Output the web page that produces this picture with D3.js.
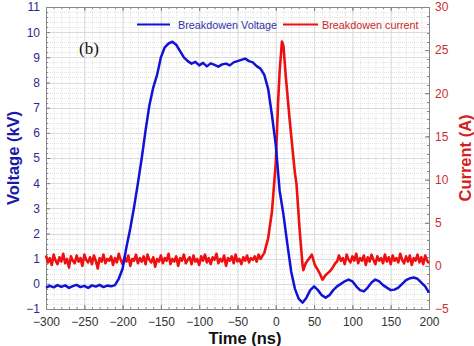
<!DOCTYPE html>
<html><head><meta charset="utf-8">
<script src="https://d3js.org/d3.v7.min.js"></script>
<style>
html,body{margin:0;padding:0;background:#fff;}
svg{display:block;font-family:"Liberation Sans",Arial,sans-serif;}
</style></head>
<body><svg id="c" width="474" height="346"></svg>
<script>
// ---- data ----
const voltageTime = [-300,-295,-290,-285,-280,-275,-270,-265,-260,-255,-250,-245,-240,-235,-230,-225,-220,-215,-210,-205,-200,-195,-190,-185,-180,-175,-170,-165,-160,-155,-150,-145,-140,-135,-130,-125,-120,-115,-110,-105,-100,-95,-90,-85,-80,-75,-70,-65,-60,-55,-50,-45,-40,-35,-30,-25,-20,-15,-10,-5,0,5,10,15,20,25,30,35,40,45,50,55,60,65,70,75,80,85,90,95,100,105,110,115,120,125,130,135,140,145,150,155,160,165,170,175,180,185,190,195,200];
const voltageKV = [-0.15,-0.08,-0.14,-0.05,-0.12,-0.06,-0.16,-0.09,-0.04,-0.13,-0.08,-0.16,-0.06,-0.11,-0.04,-0.13,-0.07,-0.1,-0.05,0.2,0.6,1.45,2.2,3.05,4.0,5.0,6.1,7.1,7.8,8.3,9.0,9.4,9.55,9.62,9.5,9.25,9.0,8.85,8.75,8.82,8.68,8.78,8.64,8.76,8.7,8.63,8.72,8.75,8.68,8.8,8.85,8.9,8.95,8.85,8.8,8.65,8.55,8.3,7.75,6.7,5.5,3.7,2.75,1.6,0.5,-0.2,-0.6,-0.75,-0.55,-0.25,-0.1,-0.25,-0.45,-0.55,-0.45,-0.25,-0.1,0.0,0.1,0.17,0.1,-0.1,-0.25,-0.3,-0.15,0.05,0.17,0.1,-0.05,-0.15,-0.25,-0.23,-0.15,0.0,0.15,0.22,0.25,0.2,0.05,-0.1,-0.35];

const currentTime = [
 -300,-297.5,-295,-292.5,-290,-287.5,-285,-282.5,-280,-277.5,-275,-272.5,-270,-267.5,-265,-262.5,-260,-257.5,-255,-252.5,
 -250,-247.5,-245,-242.5,-240,-237.5,-235,-232.5,-230,-227.5,-225,-222.5,-220,-217.5,-215,-212.5,-210,-207.5,-205,-202.5,
 -200,-197.5,-195,-192.5,-190,-187.5,-185,-182.5,-180,-177.5,-175,-172.5,-170,-167.5,-165,-162.5,-160,-157.5,-155,-152.5,
 -150,-147.5,-145,-142.5,-140,-137.5,-135,-132.5,-130,-127.5,-125,-122.5,-120,-117.5,-115,-112.5,-110,-107.5,-105,-102.5,
 -100,-97.5,-95,-92.5,-90,-87.5,-85,-82.5,-80,-77.5,-75,-72.5,-70,-67.5,-65,-62.5,-60,-57.5,-55,-52.5,
 -50,-47.5,-45,-42.5,-40,-37.5,-35,-32.5,-30,-27.5,-25,-22.5,-20,
 -15,-10,-5,0,3,5,8,10,13,18,25,27,31,35,36,39,43,47,51,55,58,61,64,67,71,75,77.5,
 80,82.5,85,87.5,90,92.5,95,97.5,100,102.5,105,107.5,110,112.5,115,117.5,120,122.5,125,127.5,
 130,132.5,135,137.5,140,142.5,145,147.5,150,152.5,155,157.5,160,162.5,165,167.5,170,172.5,175,177.5,
 180,182.5,185,187.5,190,192.5,195,197.5,200];
const currentA = [
 1.2,0.4,0.9,0.1,1.3,0.6,0.2,1.0,0.5,1.4,0.3,0.8,-0.2,1.1,0.6,0.3,1.2,0.5,0.9,0.0,
 1.3,0.7,0.4,1.0,0.2,1.2,0.6,-0.3,0.9,0.5,1.3,0.3,0.8,0.6,1.1,0.1,0.9,0.4,1.4,0.7,
 0.2,1.0,0.5,1.2,0.0,0.8,0.6,1.3,0.3,0.9,0.5,1.1,0.2,1.3,0.7,0.4,1.0,-0.1,0.8,0.5,
 1.2,0.3,0.9,0.6,1.4,0.2,0.8,0.5,1.1,0.0,0.9,0.6,1.3,0.3,0.7,1.0,0.2,1.2,0.5,0.8,
 0.1,1.1,0.6,1.3,0.4,0.9,0.2,1.0,0.7,1.4,0.3,0.8,0.5,1.2,0.0,0.9,0.6,1.1,0.3,1.3,
 0.5,0.8,0.2,1.0,0.6,1.2,0.4,0.9,0.7,1.1,0.5,1.3,0.8,
 1.5,3.2,6.3,12.0,19.0,22.5,26.0,25.5,22.0,17.0,10.7,9.5,4.3,0.0,-0.5,0.3,0.8,1.3,0.1,-0.5,-1.0,-1.6,-1.2,-0.9,-0.6,-0.1,0.3,
 0.5,1.2,0.6,0.9,0.2,1.3,0.7,0.4,1.1,0.6,1.4,0.3,0.9,0.6,1.2,0.1,1.0,0.5,1.3,0.7,
 0.2,1.1,0.6,0.9,0.3,1.3,0.5,1.0,0.2,1.2,0.6,0.9,0.4,1.4,0.7,0.3,1.1,0.5,1.2,0.1,
 0.9,0.6,1.3,0.4,1.0,0.2,1.2,0.6,0.3];

const xTicks = [-300,-250,-200,-150,-100,-50,0,50,100,150,200];
const vTicks = [-1,0,1,2,3,4,5,6,7,8,9,10,11];
const iTicks = [-5,0,5,10,15,20,25,30];
const legendLabels = ["Breakdowen Voltage","Breakdowen current"];

// ---- layout ----
const L=46, R=429, T=7, B=309;
const blue="#1212d6", red="#ee1010";
const svg=d3.select("#c");
const x=d3.scaleLinear().domain([-300,200]).range([L,R]);
const yV=d3.scaleLinear().domain([-1,11]).range([B,T]);
const yI=d3.scaleLinear().domain([-5,30]).range([B,T]);

// grid
const g=svg.append("g");
const xMinor=d3.range(-300,201,10), yMinor=d3.range(-1,11.001,0.2);
g.selectAll(".xm").data(xMinor).join("line")
 .attr("x1",d=>x(d)+0.5).attr("x2",d=>x(d)+0.5).attr("y1",T).attr("y2",B)
 .attr("stroke","#dddddd").attr("stroke-width",0.8).attr("stroke-dasharray","1,1");
g.selectAll(".ym").data(yMinor).join("line")
 .attr("y1",d=>Math.round(yV(d))+0.5).attr("y2",d=>Math.round(yV(d))+0.5).attr("x1",L).attr("x2",R)
 .attr("stroke","#dddddd").attr("stroke-width",0.8).attr("stroke-dasharray","1,1");
g.selectAll(".xM").data(xTicks).join("line")
 .attr("x1",d=>x(d)+0.5).attr("x2",d=>x(d)+0.5).attr("y1",T).attr("y2",B)
 .attr("stroke","#d6d6d6").attr("stroke-width",0.8);
g.selectAll(".yM").data(vTicks).join("line")
 .attr("y1",d=>Math.round(yV(d))+0.5).attr("y2",d=>Math.round(yV(d))+0.5).attr("x1",L).attr("x2",R)
 .attr("stroke","#d6d6d6").attr("stroke-width",0.8);

// axes
function styleAxis(sel,color,fs){
  sel.select(".domain").remove();
  sel.selectAll(".tick line").attr("stroke","#777");
  sel.selectAll("text").attr("fill",color).attr("font-size",fs).attr("font-family","'Liberation Sans',Arial,sans-serif");
}
const ax=svg.append("g").attr("transform",`translate(0,${B})`)
 .call(d3.axisBottom(x).tickValues(xTicks).tickSizeInner(-4).tickSizeOuter(0).tickPadding(8).tickFormat(d3.format("d")));
styleAxis(ax,"#333",12);
const axT=svg.append("g").attr("transform",`translate(0,${T})`)
 .call(d3.axisTop(x).tickValues(xTicks).tickSizeInner(-4).tickSizeOuter(0).tickFormat(""));
styleAxis(axT,"#333",12);
const al=svg.append("g").attr("transform",`translate(${L},0)`)
 .call(d3.axisLeft(yV).tickValues(vTicks).tickSizeInner(-4).tickSizeOuter(0).tickPadding(6).tickFormat(d3.format("d")));
styleAxis(al,"#2b2b8c",12);
const ar=svg.append("g").attr("transform",`translate(${R},0)`)
 .call(d3.axisRight(yI).tickValues(iTicks).tickSizeInner(-4).tickSizeOuter(0).tickPadding(6).tickFormat(d3.format("d")));
styleAxis(ar,"#c83030",12);
// minor ticks
const mt=svg.append("g").attr("stroke","#888").attr("stroke-width",1);
mt.selectAll(".mb").data(xMinor).join("line").attr("x1",d=>x(d)+0.5).attr("x2",d=>x(d)+0.5).attr("y1",B).attr("y2",B-2);
mt.selectAll(".mt").data(xMinor).join("line").attr("x1",d=>x(d)+0.5).attr("x2",d=>x(d)+0.5).attr("y1",T).attr("y2",T+2);
mt.selectAll(".ml").data(yMinor).join("line").attr("y1",d=>Math.round(yV(d))+0.5).attr("y2",d=>Math.round(yV(d))+0.5).attr("x1",L).attr("x2",L+2);
mt.selectAll(".mr").data(d3.range(-5,30.001,1)).join("line").attr("y1",d=>Math.round(yI(d))+0.5).attr("y2",d=>Math.round(yI(d))+0.5).attr("x1",R).attr("x2",R-2);

// frame
svg.append("rect").attr("x",L+0.5).attr("y",T+0.5).attr("width",R-L).attr("height",B-T)
 .attr("fill","none").attr("stroke","#888").attr("stroke-width",1);

// lines
const vData=voltageTime.map((t,i)=>[t,voltageKV[i]]);
const iData=currentTime.map((t,i)=>[t,currentA[i]]);
svg.append("path").datum(iData).attr("fill","none").attr("stroke",red).attr("stroke-width",2.6)
 .attr("stroke-linejoin","round").attr("d",d3.line().x(d=>x(d[0])).y(d=>yI(d[1])));
svg.append("path").datum(vData).attr("fill","none").attr("stroke",blue).attr("stroke-width",2.5)
 .attr("stroke-linejoin","round").attr("d",d3.line().x(d=>x(d[0])).y(d=>yV(d[1])));

// legend
const lg=svg.append("g").attr("font-size",10.8);
lg.append("line").attr("x1",137).attr("x2",170).attr("y1",24.5).attr("y2",24.5).attr("stroke",blue).attr("stroke-width",2.2);
lg.append("text").attr("x",178).attr("y",28.5).attr("fill","#3333aa").text(legendLabels[0]);
lg.append("line").attr("x1",283).attr("x2",318).attr("y1",24.5).attr("y2",24.5).attr("stroke",red).attr("stroke-width",2.2);
lg.append("text").attr("x",322).attr("y",28.5).attr("fill","#cc2a2a").text(legendLabels[1]);

// (b)
svg.append("text").attr("x",79).attr("y",54).attr("font-family","'Liberation Serif','Times New Roman',serif")
 .attr("font-size",17).attr("fill","#111").text("(b)");

// axis titles
svg.append("text").attr("transform",`translate(19,${(T+B)/2}) rotate(-90)`).attr("text-anchor","middle")
 .attr("font-size",16.5).attr("font-weight","bold").attr("fill","#1a1aa8").text("Voltage (kV)");
svg.append("text").attr("transform",`translate(471,${(T+B)/2}) rotate(-90)`).attr("text-anchor","middle")
 .attr("font-size",16.5).attr("font-weight","bold").attr("fill","#d42020").text("Current (A)");
svg.append("text").attr("x",245).attr("y",344).attr("text-anchor","middle")
 .attr("font-size",16.5).attr("font-weight","bold").attr("fill","#111").text("Time (ns)");
</script></body></html>
